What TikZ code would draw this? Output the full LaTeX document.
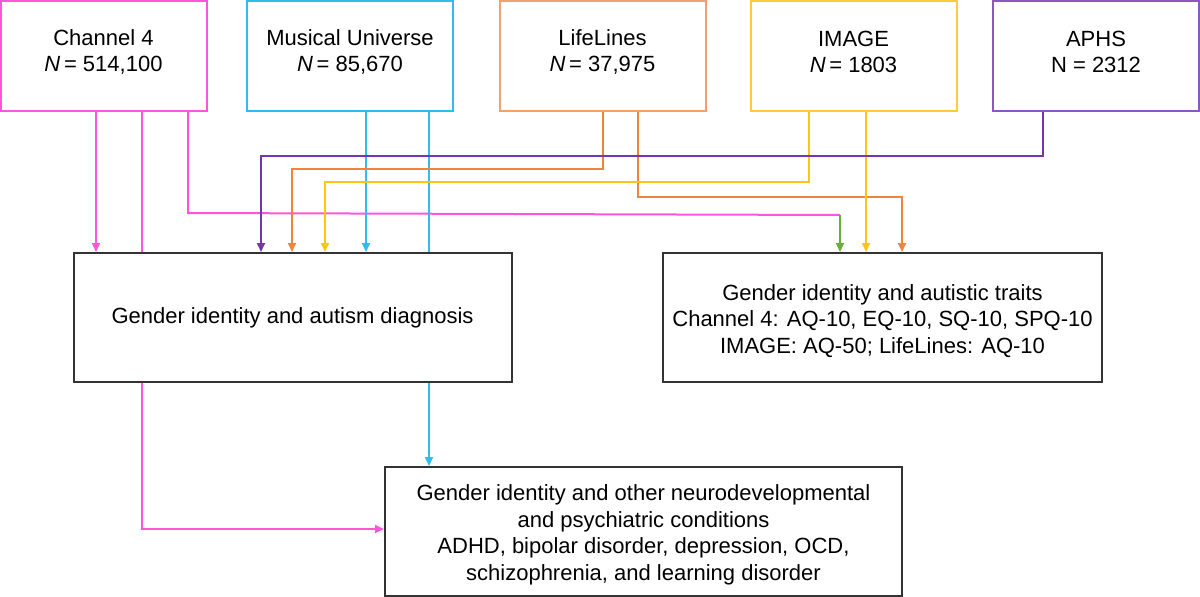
\documentclass[tikz,border=0pt]{standalone}
\usepackage{fontspec}
\setmainfont{Liberation Sans}
\usetikzlibrary{backgrounds,arrows.meta}
\definecolor{cpink}{HTML}{FF55DA}
\definecolor{ccyan}{HTML}{2FBDF0}
\definecolor{corange}{HTML}{F0843A}
\definecolor{corangebox}{HTML}{F3A06C}
\definecolor{cyellow}{HTML}{FFC414}
\definecolor{cyellowbox}{HTML}{FFCB3A}
\definecolor{cpurple}{HTML}{7436AE}
\definecolor{cpurplebox}{HTML}{8A57C4}
\definecolor{cgreen}{HTML}{6AAE3A}
\definecolor{cbox}{HTML}{333333}
\tikzset{
  srcbox/.style={draw, line width=2pt, fill=white, minimum width=206pt, minimum height=110pt, inner sep=0pt},
  outbox/.style={draw=cbox, line width=2pt, fill=white, inner sep=0pt},
  txt/.style={align=center, font=\fontsize{22}{26.5}\selectfont, inner sep=0pt},
  conn/.style={line width=2pt, -{Triangle[length=9pt,width=8pt]}},
  connplain/.style={line width=2pt},
}
\begin{document}
\begin{tikzpicture}[x=1pt,y=-1pt]
\useasboundingbox (0,0) rectangle (1200,597);
% source boxes
\node[srcbox, draw=cpink] (c4) at (103.5,55.5) {};
\node[srcbox, draw=ccyan] (mu) at (350,55.5) {};
\node[srcbox, draw=corangebox] (ll) at (602.5,55.5) {};
\node[srcbox, draw=cyellowbox] (im) at (853.5,55.5) {};
\node[srcbox, draw=cpurplebox] (ap) at (1096,55.5) {};
\node[txt] (c4t) at (103.5,52) {Channel 4\\\textit{N}\,= 514,100};
\node[txt] (mut) at (350,52) {Musical Universe\\\textit{N}\,= 85,670};
\node[txt] (llt) at (602.5,52) {LifeLines\\\textit{N}\,= 37,975};
\node[txt] (imt) at (853.5,52) {IMAGE\\\textit{N}\,= 1803};
\node[txt] (apt) at (1096,52) {APHS\\N = 2312};
% outcome boxes
\node[outbox, minimum width=438pt, minimum height=129pt] (aut) at (292.5,317.5) {};
\node[txt] (autt) at (292.5,318) {Gender identity and autism diagnosis};
\node[outbox, minimum width=439pt, minimum height=129pt] (tra) at (882.5,317.5) {};
\node[txt] (trat) at (882.5,321) {Gender identity and autistic traits\\Channel 4: AQ-10, EQ-10, SQ-10, SPQ-10\\IMAGE: AQ-50; LifeLines: AQ-10};
\node[outbox, minimum width=517pt, minimum height=129pt] (oth) at (643.5,531.5) {};
\node[txt] (otht) at (643.5,535) {Gender identity and other neurodevelopmental\\and psychiatric conditions\\ADHD, bipolar disorder, depression, OCD,\\schizophrenia, and learning disorder};
% connectors
\begin{scope}[on background layer]
% Channel 4
\draw[conn, cpink] (c4.south -| 96,0) -- (aut.north -| 96,0);
\draw[conn, cpink] (c4.south -| 142,0) -- (142,529) -- (oth.west |- 0,529);
\draw[connplain, cpink] (c4.south -| 188,0) -- (188,213) -- (840,215);
\coordinate (gturn) at (840,215);
\draw[conn, cgreen] (gturn) -- (tra.north -| gturn);
% Musical Universe
\draw[conn, ccyan] (mu.south -| 366,0) -- (aut.north -| 366,0);
\draw[conn, ccyan] (mu.south -| 429,0) -- (oth.north -| 429,0);
% LifeLines
\draw[conn, corange] (ll.south -| 603,0) -- (603,169) -- (292,169) -- (aut.north -| 292,0);
\draw[conn, corange] (ll.south -| 638,0) -- (638,197) -- (902,197) -- (tra.north -| 902,0);
% IMAGE
\draw[conn, cyellow] (im.south -| 809,0) -- (809,182) -- (325,182) -- (aut.north -| 325,0);
\draw[conn, cyellow] (im.south -| 866,0) -- (tra.north -| 866,0);
% APHS
\draw[conn, cpurple] (ap.south -| 1043,0) -- (1043,156) -- (261,156) -- (aut.north -| 261,0);
\end{scope}
\end{tikzpicture}
\end{document}
